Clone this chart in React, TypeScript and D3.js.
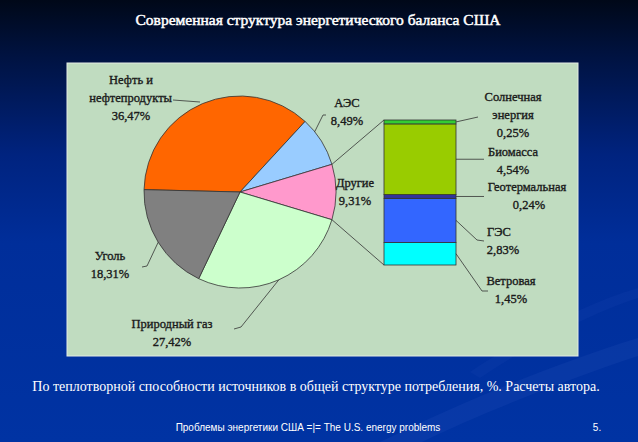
import React, { useRef, useEffect } from "react";
import * as d3 from "d3";

// main balance, % (clockwise from the 9 o'clock position)
const mainLabels = ["Нефть и нефтепродукты", "АЭС", "Другие", "Природный газ", "Уголь"];
const mainValues = [36.47, 8.49, 9.31, 27.42, 18.31];
const mainColors = ["#ff6600", "#99ccff", "#ff99cc", "#ccffcc", "#808080"];

// breakdown of "Другие", top to bottom
const otherLabels = ["Солнечная энергия", "Биомасса", "Геотермальная", "ГЭС", "Ветровая"];
const otherValues = [0.25, 4.54, 0.24, 2.83, 1.45];
const otherColors = ["#33cc33", "#99cc00", "#333399", "#3366ff", "#00ffff"];

const title = "Современная структура энергетического баланса США";
const subtitle = "По теплотворной способности источников в общей структуре потребления, %. Расчеты автора.";
const footer = "Проблемы энергетики США =|= The U.S. energy problems";
const pageNo = "5.";

const pct = (v: number) => d3.format(".2f")(v).replace(".", ",") + "%";

export default function App() {
    const svgRef = useRef<SVGSVGElement>(null);

    useEffect(() => {
        if (!svgRef.current) return;
        const svg = d3.select(svgRef.current);
        svg.selectAll("*").remove();

        const width = 638;
        const height = 442;
        const serif = "Liberation Serif";

        // slide background
        const defs = svg.append("defs");
        const bg = defs.append("linearGradient").attr("id", "bg")
            .attr("x1", 0).attr("y1", 0).attr("x2", 0).attr("y2", 1);
        bg.append("stop").attr("offset", 0).attr("stop-color", "#000818");
        bg.append("stop").attr("offset", 0.12).attr("stop-color", "#00123f");
        bg.append("stop").attr("offset", 0.35).attr("stop-color", "#00237f");
        bg.append("stop").attr("offset", 0.55).attr("stop-color", "#002e9a");
        bg.append("stop").attr("offset", 1).attr("stop-color", "#0033a3");
        svg.append("rect").attr("width", width).attr("height", height).attr("fill", "url(#bg)");

        // faint swooshes bottom right
        svg.append("path")
            .attr("d", "M380,442 C470,398 560,362 638,338 L638,356 C560,382 480,414 422,442 Z")
            .attr("fill", "#3a66c8").attr("opacity", 0.14);
        svg.append("path")
            .attr("d", "M470,372 C530,332 590,302 638,288 L638,298 C590,314 530,344 480,378 Z")
            .attr("fill", "#2f5cc0").attr("opacity", 0.1);

        svg.append("text")
            .attr("x", 318).attr("y", 25)
            .attr("text-anchor", "middle")
            .attr("font-family", serif).attr("font-size", 15.5)
            .attr("fill", "#ffffff").attr("stroke", "#ffffff").attr("stroke-width", 0.5)
            .text(title);

        // chart area
        const plot = { x: 67, y: 63, w: 511, h: 293 };
        svg.append("rect")
            .attr("x", plot.x).attr("y", plot.y).attr("width", plot.w).attr("height", plot.h)
            .attr("fill", "#c0dcc0").attr("stroke", "#e4ece4").attr("stroke-width", 1);

        // pie
        const cx = 240, cy = 192, r = 96;
        const start = (271.4 * Math.PI) / 180;
        const pie = d3.pie<number>().sort(null).value((d) => d)
            .startAngle(start).endAngle(start + 2 * Math.PI);
        const arcs = pie(mainValues);
        const arc = d3.arc<d3.PieArcDatum<number>>().innerRadius(0).outerRadius(r);
        const g = svg.append("g").attr("transform", `translate(${cx},${cy})`);
        g.selectAll("path").data(arcs).enter().append("path")
            .attr("d", arc)
            .attr("fill", (d, i) => mainColors[i])
            .attr("stroke", "#333").attr("stroke-width", 0.8);

        const polar = (a: number, rr: number): [number, number] =>
            [cx + rr * Math.sin(a), cy - rr * Math.cos(a)];

        // stacked bar for "Другие"
        const bar = { x: 384, w: 72, top: 120, bottom: 265 };
        const otherTotal = d3.sum(otherValues);
        const y = d3.scaleLinear().domain([0, otherTotal]).range([bar.bottom, bar.top]);
        const row: Record<string, number> = {};
        otherLabels.forEach((k, i) => (row[k] = otherValues[i]));
        const keys = [...otherLabels].reverse();
        const series = d3.stack<Record<string, number>>().keys(keys)([row]);
        svg.append("g").selectAll("rect").data(series).enter().append("rect")
            .attr("x", bar.x).attr("width", bar.w)
            .attr("y", (s) => y(s[0][1]))
            .attr("height", (s) => y(s[0][0]) - y(s[0][1]))
            .attr("fill", (s) => otherColors[otherLabels.indexOf(s.key)])
            .attr("stroke", "#333").attr("stroke-width", 0.8);

        const line = (pts: [number, number][]) =>
            svg.append("path").attr("d", d3.line()(pts)).attr("fill", "none")
                .attr("stroke", "#333").attr("stroke-width", 0.8);

        // connectors pie -> bar
        const other = arcs[2];
        line([polar(other.startAngle, r), [bar.x, y(otherTotal)]]);
        line([polar(other.endAngle, r), [bar.x, y(0)]]);

        const label = (lines: string[], x: number, y0: number, anchor = "middle") => {
            const t = svg.append("text")
                .attr("font-family", serif).attr("font-size", 12.5)
                .attr("fill", "#1a1a1a").attr("stroke", "#1a1a1a").attr("stroke-width", 0.35)
                .attr("text-anchor", anchor);
            lines.forEach((s, i) => t.append("tspan").attr("x", x).attr("y", y0 + i * 18).text(s));
        };

        // pie labels
        label(["Нефть и"], 131, 84);
        label(["нефтепродукты"], 172, 102, "end");
        label([pct(mainValues[0])], 131, 120);
        line([[173, 100], [200, 102]]);

        label([mainLabels[1], pct(mainValues[1])], 347, 107);
        line([[326, 115], [323, 115], polar((arcs[1].startAngle + arcs[1].endAngle) / 2 - 0.12, r)]);

        label([mainLabels[2], pct(mainValues[2])], 355, 187);

        label([mainLabels[4], pct(mainValues[4])], 110, 260);
        line([[142, 267], [147, 266], polar((arcs[4].startAngle + arcs[4].endAngle) / 2, r)]);

        label([mainLabels[3], pct(mainValues[3])], 172, 328);
        line([[234, 329], [241, 327], polar((arcs[3].startAngle + arcs[3].endAngle) / 2, r)]);

        // bar labels
        const mid = (k: string) => {
            const s = series.find((d) => d.key === k)!;
            return y((s[0][0] + s[0][1]) / 2);
        };
        const right = bar.x + bar.w;

        label(["Солнечная", "энергия", pct(otherValues[0])], 513, 101);
        line([[right, mid(otherLabels[0])], [478, 117]]);

        label([otherLabels[1], pct(otherValues[1])], 513, 156);
        line([[right, mid(otherLabels[1])], [484, mid(otherLabels[1])]]);

        label([otherLabels[2]], 527, 191);
        label([pct(otherValues[2])], 529, 209);
        line([[right, mid(otherLabels[2])], [484, mid(otherLabels[2])]]);

        label([otherLabels[3]], 499, 236);
        label([pct(otherValues[3])], 503, 254);
        line([[right, mid(otherLabels[3])], [477, 240], [484, 241]]);

        label([otherLabels[4], pct(otherValues[4])], 511, 285);
        line([[right, mid(otherLabels[4])], [482, 291], [488, 291]]);

        svg.append("text")
            .attr("x", 316).attr("y", 391)
            .attr("text-anchor", "middle")
            .attr("font-family", serif).attr("font-size", 14)
            .attr("fill", "#ffffff")
            .text(subtitle);

        svg.append("text")
            .attr("x", 308).attr("y", 431)
            .attr("text-anchor", "middle")
            .attr("font-family", "Liberation Sans").attr("font-size", 10)
            .attr("fill", "#ffffff")
            .text(footer);

        svg.append("text")
            .attr("x", 597).attr("y", 431)
            .attr("text-anchor", "middle")
            .attr("font-family", "Liberation Sans").attr("font-size", 10)
            .attr("fill", "#ffffff")
            .text(pageNo);
    }, []);

    return (
        <svg
            ref={svgRef}
            width={638}
            height={442}
            style={{ position: "absolute", left: 0, top: 0, display: "block" }}
        />
    );
}
